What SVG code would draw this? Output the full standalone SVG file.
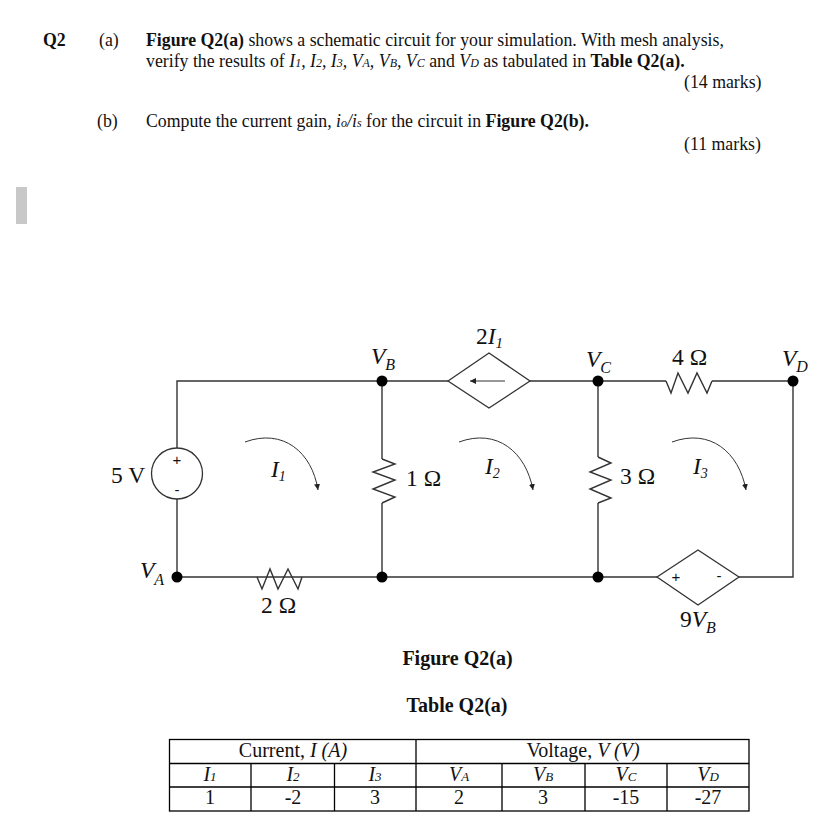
<svg xmlns="http://www.w3.org/2000/svg" width="825" height="837" viewBox="0 0 825 837">
<style>
text{font-family:"Liberation Serif","Times New Roman",serif;fill:#111}
.q{font-size:17.8px}
.b{font-weight:bold}
.i{font-style:italic}
.c{font-size:23.5px}
.m{text-anchor:middle}
.t{font-size:20px}
.wire{fill:none;stroke:#333;stroke-width:1.4}
.thin{fill:none;stroke:#333;stroke-width:1}
.shape{fill:#fff;stroke:#333;stroke-width:1.3}
.dot{fill:#000}
.grid{fill:none;stroke:#000;stroke-width:1.3}
.sign{font-family:"Liberation Sans",Arial,sans-serif;font-size:15px;text-anchor:middle}
</style>
<defs>
<marker id="ah" markerWidth="7" markerHeight="7" refX="6" refY="3" orient="auto" markerUnits="userSpaceOnUse"><path d="M0 0L6 3L0 6Z" fill="#222"/></marker>
</defs>
<rect width="825" height="837" fill="#fff"/>
<rect x="16" y="187" width="11" height="37" fill="#c8c8c8"/>
<g id="question">
<text x="43" y="46" class="q b">Q2</text>
<text x="99" y="46" class="q">(a)</text>
<text x="146" y="46" class="q"><tspan class="b">Figure Q2(a)</tspan> shows a schematic circuit for your simulation. With mesh analysis,</text>
<text x="146" y="67" class="q">verify the results of <tspan class="i">I<tspan font-size="12">1</tspan>, I<tspan font-size="12">2</tspan>, I<tspan font-size="12">3</tspan>, V<tspan font-size="12">A</tspan>, V<tspan font-size="12">B</tspan>, V<tspan font-size="12">C</tspan></tspan> and <tspan class="i">V<tspan font-size="12">D</tspan></tspan> as tabulated in <tspan class="b">Table Q2(a).</tspan></text>
<text x="684" y="88" class="q">(14 marks)</text>
<text x="97" y="127" class="q">(b)</text>
<text x="146" y="127" class="q">Compute the current gain, <tspan class="i">i<tspan font-size="12">o</tspan>/i<tspan font-size="12">s</tspan></tspan> for the circuit in <tspan class="b">Figure Q2(b).</tspan></text>
<text x="684" y="150" class="q">(11 marks)</text>
</g>
<g id="connectors">
<path class="wire" d="M177 448V381H448M530 381H666M712 381H793V577H739M657 577H177V499"/>
<path class="wire" d="M382 381V459M382 503V577M598 381V457M598 503V577"/>
<path class="thin" marker-end="url(#ah)" d="M245 442C283 428 312 452 318 490"/>
<path class="thin" marker-end="url(#ah)" d="M459 442C497 428 526 452 533 490"/>
<path class="thin" marker-end="url(#ah)" d="M672 442C710 428 739 452 746 490"/>
</g>
<g id="source-5V">
<circle class="shape" cx="177" cy="473.5" r="25.5"/>
<text x="177" y="465" class="sign">+</text>
<text x="177" y="495" class="sign">-</text>
<text x="111" y="483" class="c">5 V</text>
</g>
<g id="node-VA"><circle class="dot" cx="177" cy="577" r="5.5"/><text x="140" y="578" class="c i">V<tspan font-size="16" dy="7">A</tspan></text></g>
<g id="node-VB"><circle class="dot" cx="382" cy="381" r="5.5"/><text x="371" y="364" class="c i">V<tspan font-size="16" dy="6">B</tspan></text></g>
<g id="node-VC"><circle class="dot" cx="598" cy="381" r="5.5"/><text x="586" y="367" class="c i">V<tspan font-size="16" dy="6">C</tspan></text></g>
<g id="node-VD"><circle class="dot" cx="793" cy="381" r="5.5"/><text x="782" y="366" class="c i">V<tspan font-size="16" dy="6">D</tspan></text></g>
<g id="node-bottom1"><circle class="dot" cx="382" cy="577" r="5.5"/></g>
<g id="node-bottom2"><circle class="dot" cx="598" cy="577" r="5.5"/></g>
<g id="resistor-2"><path class="wire" d="M257 577L262 589L270 569L278 589L288 569L298 589L302 577"/><text x="261" y="613" class="c">2 Ω</text></g>
<g id="resistor-1"><path class="wire" d="M382 459L395 464L373 472L395 480L373 489L395 497L382 503"/><text x="406" y="486" class="c">1 Ω</text></g>
<g id="resistor-3"><path class="wire" d="M598 457L611 463L590 472L611 480L590 489L611 498L598 503"/><text x="620" y="484" class="c">3 Ω</text></g>
<g id="resistor-4"><path class="wire" d="M666 381L671 393L678 373L688 393L697 373L707 393L712 381"/><text x="672" y="365" class="c">4 Ω</text></g>
<g id="ccs-2I1">
<path class="shape" d="M448 381L489 353L530 381L489 408Z"/>
<path class="thin" marker-end="url(#ah)" d="M505 381H470"/>
<text x="476" y="344" class="c">2<tspan class="i">I<tspan font-size="15" dy="4">1</tspan></tspan></text>
</g>
<g id="vcvs-9VB">
<path class="shape" d="M657 577L698 550L739 577L698 605Z"/>
<text x="676" y="582" class="sign">+</text>
<text x="719" y="581" class="sign">-</text>
<text x="680" y="627" class="c">9<tspan class="i">V<tspan font-size="16" dy="6">B</tspan></tspan></text>
</g>
<g id="mesh-labels">
<text x="271" y="477" class="c i">I<tspan font-size="14" dy="4">1</tspan></text>
<text x="485" y="474" class="c i">I<tspan font-size="14" dy="4">2</tspan></text>
<text x="693" y="474" class="c i">I<tspan font-size="14" dy="4">3</tspan></text>
</g>
<g id="captions">
<text x="457.5" y="665" class="t b m">Figure Q2(a)</text>
<text x="457" y="712" class="t b m">Table Q2(a)</text>
</g>
<g id="table">
<rect class="grid" x="169.5" y="739.5" width="579.5" height="71.5"/>
<path class="grid" d="M169.5 763.5H749M169.5 787H749M416 739.5V811M251 763.5V811M334.5 763.5V811M502 763.5V811M585 763.5V811M667 763.5V811"/>
<text x="293" y="757" class="t m">Current, <tspan class="i">I (A)</tspan></text>
<text x="583" y="757" class="t m">Voltage, <tspan class="i">V (V)</tspan></text>
<text x="210" y="780.5" class="t i m">I<tspan font-size="13">1</tspan></text>
<text x="293" y="780.5" class="t i m">I<tspan font-size="13">2</tspan></text>
<text x="375" y="780.5" class="t i m">I<tspan font-size="13">3</tspan></text>
<text x="459" y="780.5" class="t i m">V<tspan font-size="13">A</tspan></text>
<text x="543" y="780.5" class="t i m">V<tspan font-size="13">B</tspan></text>
<text x="626" y="780.5" class="t i m">V<tspan font-size="13">C</tspan></text>
<text x="708" y="780.5" class="t i m">V<tspan font-size="13">D</tspan></text>
<text x="210" y="804" class="t m">1</text>
<text x="293" y="804" class="t m">-2</text>
<text x="375" y="804" class="t m">3</text>
<text x="459" y="804" class="t m">2</text>
<text x="543" y="804" class="t m">3</text>
<text x="626" y="804" class="t m">-15</text>
<text x="708" y="804" class="t m">-27</text>
</g>
</svg>
